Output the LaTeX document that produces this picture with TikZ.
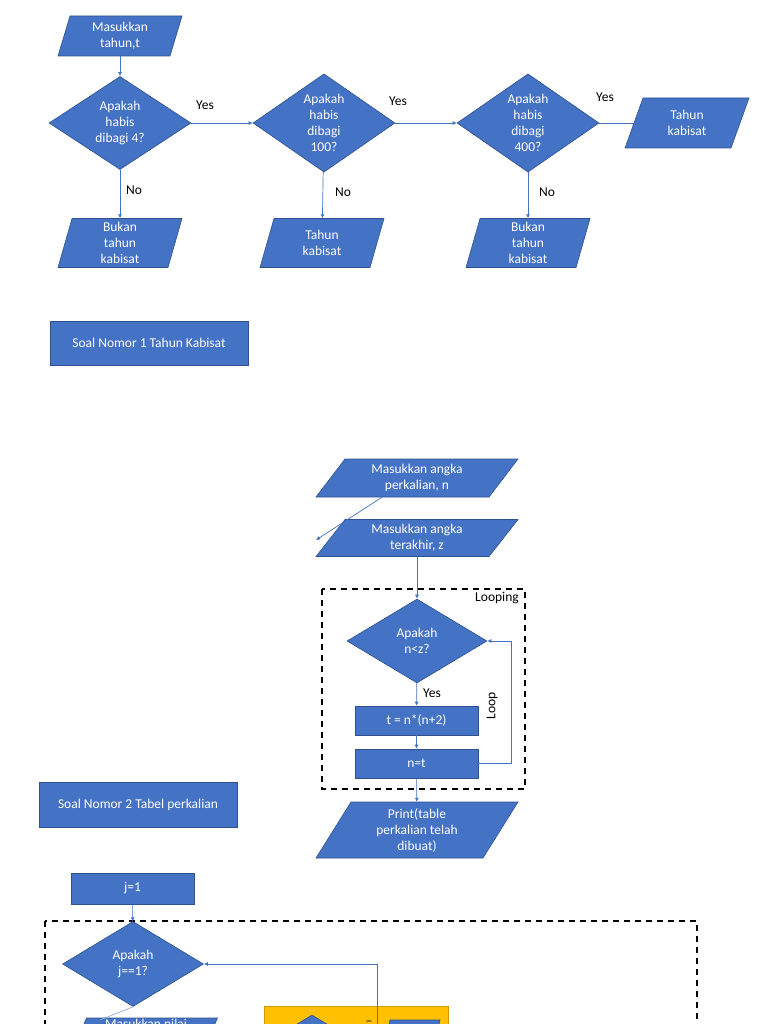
\documentclass[tikz,border=0pt]{standalone}
\usepackage{fontspec}
\setmainfont{Carlito}
\usetikzlibrary{shapes.geometric,arrows.meta}
\definecolor{fb}{HTML}{4472C4}
\definecolor{sb}{HTML}{2F528F}
\definecolor{yel}{HTML}{FFC000}
\newcommand\mypara[7]{%
  \fill[fb,draw=sb,line width=0.6pt] (#2-#4/2+#6,#3-#5/2) -- (#2+#4/2,#3-#5/2) -- (#2+#4/2-#6,#3+#5/2) -- (#2-#4/2,#3+#5/2) -- cycle;
  \node[txt,minimum width=#4-2*#6,minimum height=#5] (#1) at (#2,#3) {#7};}
\begin{document}
\begin{tikzpicture}[x=1pt,y=-1pt,
  txt/.style={inner sep=0,align=center,text=white,font=\fontsize{13.5}{16}\selectfont},
  dia/.style={diamond,fill=fb,draw=sb,line width=0.6pt,inner sep=0,align=center,text=white,font=\fontsize{13.5}{16}\selectfont},
  box/.style={rectangle,fill=fb,draw=sb,line width=0.6pt,align=center,text=white,font=\fontsize{13.5}{16}\selectfont},
  con/.style={draw=fb,line width=0.7pt,-{Latex[length=4pt,width=4pt]}},
  lbl/.style={font=\fontsize{13.5}{16}\selectfont,text=black},
  dbox/.style={draw=black,line width=1.6pt,dash pattern=on 6pt off 5pt}]
\useasboundingbox (0,0) rectangle (768,1024);
\clip (0,0) rectangle (768,1024);
% ---- Soal 1
\mypara{in1}{120}{36}{124}{40}{12}{Masukkan\\tahun,t}
\node[dia,minimum width=142,minimum height=86] (d1) at (120,123) {Apakah\\habis\\dibagi 4?};
\node[dia,minimum width=142,minimum height=86] (d2) at (324,123) {Apakah\\habis\\dibagi\\100?};
\node[dia,minimum width=142,minimum height=86] (d3) at (528,123) {Apakah\\habis\\dibagi\\400?};
\mypara{tk1}{687}{123}{124}{50}{18}{Tahun\\kabisat}
\mypara{bk1}{120}{243}{124}{49}{14}{Bukan\\tahun\\kabisat}
\mypara{tk2}{322}{243}{124}{49}{14}{Tahun\\kabisat}
\mypara{bk2}{528}{243}{124}{49}{14}{Bukan\\tahun\\kabisat}
\draw[con] (in1) -- (d1);
\draw[con] (d1) -- (d2); \draw[con] (d2) -- (d3); \draw[con] (d3) -- (tk1);
\draw[con] (d1) -- (bk1); \draw[con] (d2) -- (tk2); \draw[con] (d3) -- (bk2);
\node[lbl] (y1) at (205,105) {Yes}; \node[lbl] (y2) at (398,101) {Yes}; \node[lbl] (y3) at (605,97) {Yes};
\node[lbl] (n1) at (134,190) {No}; \node[lbl] (n2) at (343,192) {No}; \node[lbl] (n3) at (547,192) {No};
\node[box,minimum width=198,minimum height=44] (s1) at (149,343) {Soal Nomor 1 Tahun Kabisat};
% ---- Soal 2
\mypara{in2}{417}{478}{202}{38}{29}{Masukkan angka\\perkalian, n}
\mypara{in3}{417}{538}{202}{37}{29}{Masukkan angka\\terakhir, z}
\coordinate (stray) at (316,540);
\draw[con] (in2.south) ++(-35,0) -- (stray);
\draw[dbox] (322,589) rectangle (525,789);
\node[lbl] (lp) at (497,598) {Looping};
\node[dia,minimum width=140,minimum height=84] (d4) at (417,641) {Apakah\\n<z?};
\node[box,minimum width=123,minimum height=29] (r1) at (416.5,720.5) {t = n*(n+2)};
\node[box,minimum width=123,minimum height=29] (r2) at (416.5,763.5) {n=t};
\mypara{pr}{417}{830}{202}{56}{35}{Print(table\\perkalian telah\\dibuat)}
\draw[con] (in3) -- (d4);
\draw[con] (d4) -- (r1); \draw[con] (r1) -- (r2); \draw[con] (r2) -- (pr);
\draw[con] (r2.east) -- (511,763.5) -- (511,641) -- (d4.east);
\node[lbl] (yy) at (432,693) {Yes};
\node[lbl,rotate=90] (lo) at (492,706) {Loop};
\node[box,minimum width=198,minimum height=45] (s2) at (138,804.5) {Soal Nomor 2 Tabel perkalian};
% ---- Soal 3 (cut off)
\node[box,minimum width=123,minimum height=31] (j1) at (132.5,888.5) {j=1};
\draw[dbox] (45,921) rectangle (697,1040);
\node[dia,minimum width=141,minimum height=85] (d5) at (133,964) {Apakah\\j==1?};
\draw[con] (j1) -- (d5);
\fill[yel,draw=yel!80!black] (264,1006) rectangle (448,1040);
\node[dia,minimum width=50,minimum height=30,font=\fontsize{6}{7}\selectfont] (d6) at (312,1030) {Apakah\\x};
\mypara{pp}{412}{1032}{56}{24}{6}{}
\node[font=\fontsize{4}{5}\selectfont] (ys) at (369,1022) {yes};
\mypara{mn}{146}{1032}{143}{28}{12}{Masukkan nilai\\x}
\coordinate (lb) at (377,1030);
\draw[con] (lb) -- (377,964) -- (d5.east);
\draw[draw=fb!60,line width=0.7pt] (d5.south) -- (100,1020);
\end{tikzpicture}
\end{document}
